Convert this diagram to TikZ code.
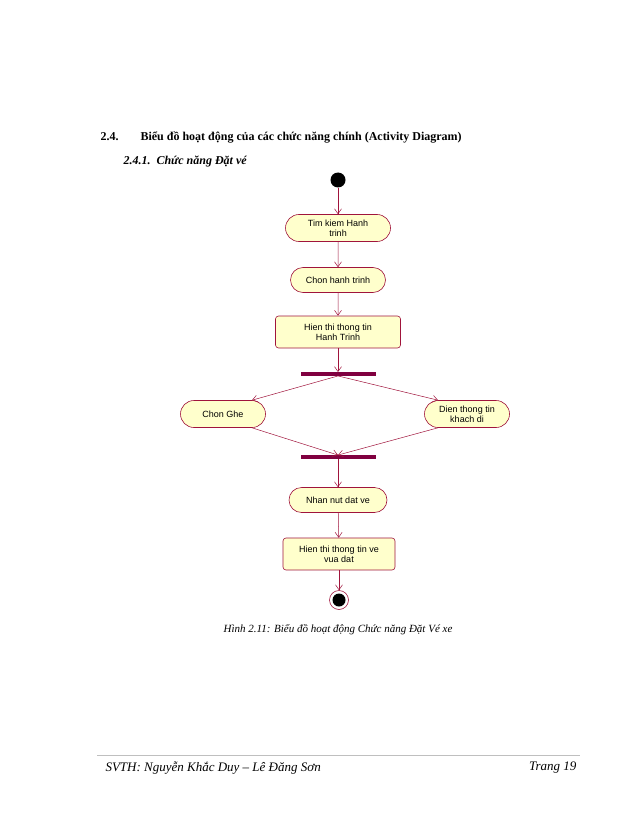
\documentclass[tikz,border=0pt]{standalone}
\usepackage{fontspec}
\setmainfont{Liberation Serif}
\newfontfamily\diag{Liberation Sans}
\usetikzlibrary{arrows.meta,shapes.misc}
\definecolor{bd}{RGB}{160,20,60}
\definecolor{fl}{RGB}{255,255,204}
\definecolor{bar}{RGB}{128,0,64}
\begin{document}
\begin{tikzpicture}[x=1pt,y=-1pt,
  act/.style={rounded rectangle,draw=bd,fill=fl,font=\diag\fontsize{9}{10}\selectfont,align=center,inner sep=1pt,line width=0.6pt},
  box/.style={rectangle,rounded corners=3pt,draw=bd,fill=fl,font=\diag\fontsize{9}{10}\selectfont,align=center,inner sep=1pt,line width=0.6pt},
  fb/.style={fill=bar,draw=none,minimum height=3.5pt,inner sep=0pt},
  ar/.style={draw=bd,line width=0.5pt,-{Straight Barb[length=5pt,width=7pt]}}]
\useasboundingbox (0,0) rectangle (638,826);
\node[anchor=west,font=\bfseries\fontsize{12}{14}\selectfont] (h1) at (97,137) {2.4.\hspace{22pt}Biểu đồ hoạt động của các chức năng chính (Activity Diagram)};
\node[anchor=west,font=\bfseries\itshape\fontsize{12}{14}\selectfont] (h2) at (120,162) {2.4.1.\hspace{6pt}Chức năng Đặt vé};
\node[circle,fill=black,minimum size=15pt,inner sep=0pt] (s) at (338,180) {};
\node[act,minimum width=107pt,minimum height=27pt] (a1) at (338,228) {Tim kiem Hanh\\trinh};
\node[act,minimum width=97pt,minimum height=25pt] (a2) at (338,280) {Chon hanh trinh};
\node[box,minimum width=125pt,minimum height=32pt] (a3) at (338,332) {Hien thi thong tin\\Hanh Trinh};
\node[fb,minimum width=75pt] (f1) at (338,374) {};
\node[act,minimum width=87pt,minimum height=27pt] (a4) at (223,414) {Chon Ghe};
\node[act,minimum width=87pt,minimum height=27pt] (a5) at (467,414) {Dien thong tin\\khach di};
\node[fb,minimum width=75pt] (f2) at (338,457) {};
\node[act,minimum width=100pt,minimum height=25pt] (a6) at (338,500) {Nhan nut dat ve};
\node[box,minimum width=112pt,minimum height=32pt] (a7) at (339,554) {Hien thi thong tin ve\\vua dat};
\node[circle,draw=bd,line width=0.6pt,minimum size=19pt,inner sep=0pt] (e) at (339,600) {};
\node[circle,fill=black,minimum size=13pt,inner sep=0pt] at (e) {};
\draw[ar] (s) -- (a1);
\draw[ar] (a1) -- (a2);
\draw[ar] (a2) -- (a3);
\draw[ar] (a3) -- (f1);
\draw[ar] (f1.south) -- (a4.north east);
\draw[ar] (f1.south) -- (a5.north west);
\draw[ar] (a4.south east) -- (f2.north);
\draw[ar] (a5.south west) -- (f2.north);
\draw[ar] (f2) -- (a6);
\draw[ar] (a6) -- (a7);
\draw[ar] (a7) -- (e);
\node[font=\itshape\fontsize{11}{13}\selectfont] (cap) at (338,630) {Hình 2.11: Biểu đồ hoạt động Chức năng Đặt Vé xe};
\coordinate (l1) at (97,755); \coordinate (l2) at (580,755);
\draw[gray!50,line width=0.4pt] (l1) -- (l2);
\node[anchor=west,font=\itshape\fontsize{13}{15}\selectfont] (ft1) at (102,768) {SVTH: Nguyễn Khắc Duy – Lê Đăng Sơn};
\node[anchor=east,font=\itshape\fontsize{13}{15}\selectfont] (ft2) at (580,768) {Trang 19};
\end{tikzpicture}
\end{document}
